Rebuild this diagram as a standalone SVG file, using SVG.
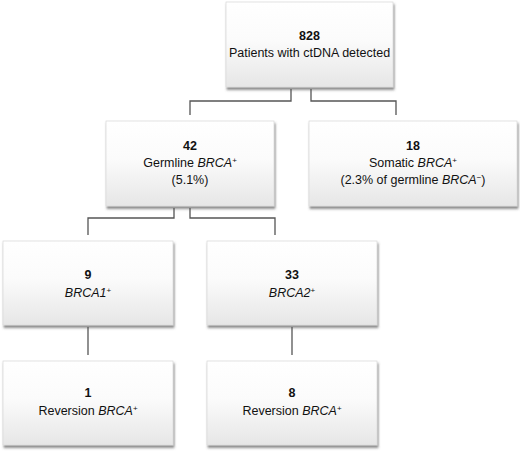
<svg xmlns="http://www.w3.org/2000/svg" width="520" height="451" viewBox="0 0 520 451">
<defs>
<linearGradient id="g" x1="0" y1="0" x2="0" y2="1">
<stop offset="0" stop-color="#ffffff"/>
<stop offset="0.45" stop-color="#fbfbfb"/>
<stop offset="1" stop-color="#e6e6e6"/>
</linearGradient>
<filter id="sh" x="-10%" y="-10%" width="125%" height="130%">
<feDropShadow dx="1" dy="2.5" stdDeviation="1.3" flood-color="#555" flood-opacity="0.7"/>
</filter>
</defs>
<style>
.box{fill:url(#g);stroke:#dcdcdc;stroke-width:0.8;filter:url(#sh)}
text{font-family:"Liberation Sans",Arial,sans-serif;font-size:12.5px;fill:#111;text-anchor:middle}
.n{font-weight:bold}
.i{font-style:italic}
.c{fill:none;stroke:#555;stroke-width:1.3}
</style>
<rect width="520" height="451" fill="#fff"/>
<g id="connectors">
<path class="c" d="M291,89 V101 H190 V115"/>
<path class="c" d="M311,89 V101 H396 V115"/>
<path class="c" d="M174,208 V218 H88 V235"/>
<path class="c" d="M190,208 V218 H275 V235"/>
<path class="c" d="M88,327 V355"/>
<path class="c" d="M292,327 V355"/>
</g>
<g id="n828">
<rect class="box" x="226" y="2" width="167" height="85"/>
<text x="309.5" y="40" class="n">828</text>
<text x="309.5" y="56.5">Patients with ctDNA detected</text>
</g>
<g id="n42">
<rect class="box" x="106" y="121" width="168" height="85"/>
<text x="190" y="150" class="n">42</text>
<text x="190" y="167">Germline <tspan class="i">BRCA</tspan><tspan dy="-4" font-size="8">+</tspan></text>
<text x="190" y="184">(5.1%)</text>
</g>
<g id="n18">
<rect class="box" x="309" y="121" width="208" height="85"/>
<text x="413" y="150" class="n">18</text>
<text x="413" y="167">Somatic <tspan class="i">BRCA</tspan><tspan dy="-4" font-size="8">+</tspan></text>
<text x="413" y="184">(2.3% of germline <tspan class="i">BRCA</tspan><tspan dy="-4" font-size="8">−</tspan><tspan dy="4">)</tspan></text>
</g>
<g id="n9">
<rect class="box" x="3" y="241" width="170" height="84"/>
<text x="88" y="279" class="n">9</text>
<text x="88" y="297"><tspan class="i">BRCA1</tspan><tspan dy="-4" font-size="8">+</tspan></text>
</g>
<g id="n33">
<rect class="box" x="207" y="241" width="170" height="84"/>
<text x="292" y="279" class="n">33</text>
<text x="292" y="297"><tspan class="i">BRCA2</tspan><tspan dy="-4" font-size="8">+</tspan></text>
</g>
<g id="n1">
<rect class="box" x="3" y="361" width="170" height="84"/>
<text x="88" y="397" class="n">1</text>
<text x="88" y="415">Reversion <tspan class="i">BRCA</tspan><tspan dy="-4" font-size="8">+</tspan></text>
</g>
<g id="n8">
<rect class="box" x="207" y="361" width="170" height="84"/>
<text x="292" y="397" class="n">8</text>
<text x="292" y="415">Reversion <tspan class="i">BRCA</tspan><tspan dy="-4" font-size="8">+</tspan></text>
</g>
</svg>
